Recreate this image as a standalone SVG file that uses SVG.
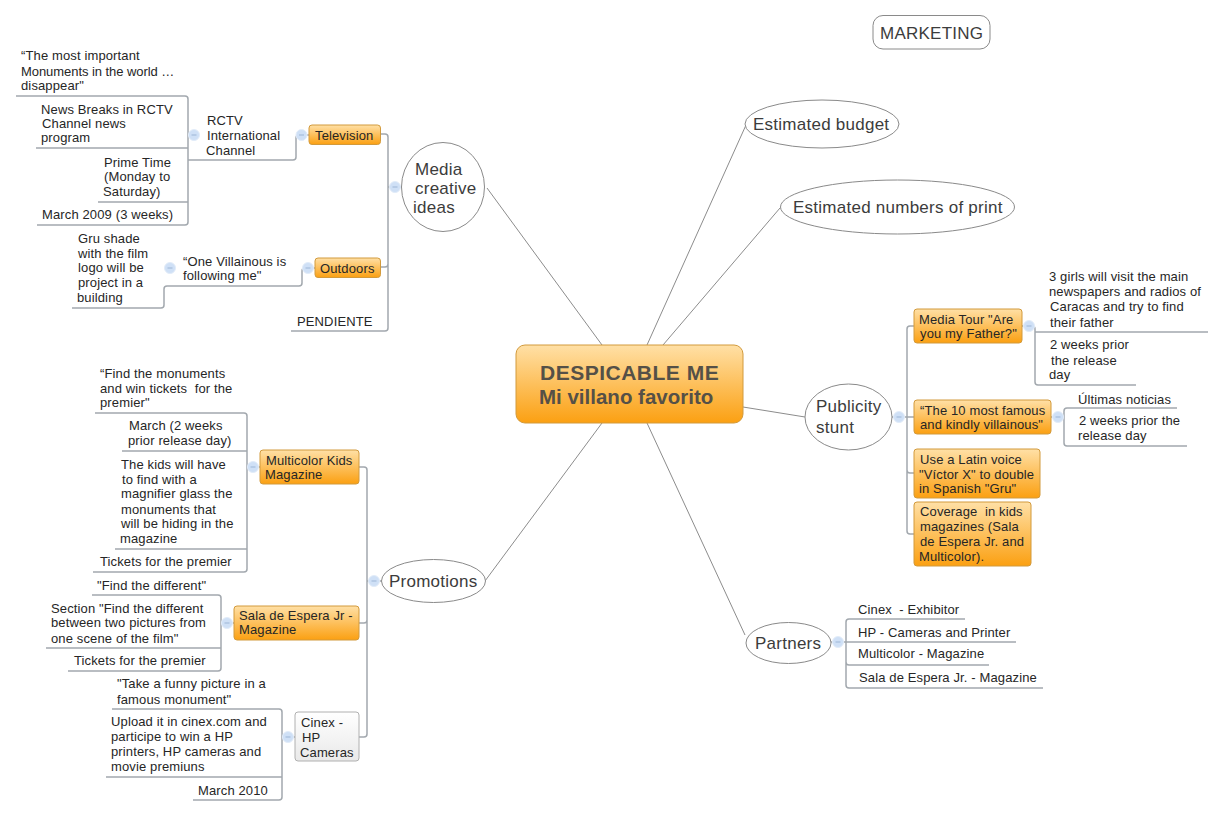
<svg xmlns="http://www.w3.org/2000/svg" width="1225" height="816" viewBox="0 0 1225 816">
<style>
text{font-family:"Liberation Sans",Arial,sans-serif;fill:#262626;white-space:pre}
.s{font-size:13px;letter-spacing:.13px}
.m{font-size:17px;fill:#3c3c3c;letter-spacing:.25px}
.c{font-size:21px;font-weight:bold;fill:#555047;letter-spacing:.5px}
.c2{font-size:20.500px;font-weight:bold;fill:#555047}
.o{fill:url(#og);stroke:#d29a3c;stroke-width:1}
.w{fill:url(#wg);stroke:#b0b0b0;stroke-width:1}
.e{fill:#fff;stroke:#8a8a8a;stroke-width:1}
.l{fill:none;stroke:#a2a8ae;stroke-width:1.5}
.r{fill:none;stroke:#8c8c8c;stroke-width:1}
</style>
<defs>
<linearGradient id="og" x1="0" y1="0" x2="0" y2="1"><stop offset="0" stop-color="#ffe0a6"/><stop offset="1" stop-color="#fba012"/></linearGradient>
<linearGradient id="wg" x1="0" y1="0" x2="0" y2="1"><stop offset="0" stop-color="#fff"/><stop offset="1" stop-color="#e9e9e9"/></linearGradient>
<g id="dot"><circle r="5.500" fill="#cfe0f6" stroke="#e2ecf9"/><path d="M-2.500 0H2.500" stroke="#9db6d6" stroke-width="1"/></g>
</defs>
<rect width="1225" height="816" fill="#fff"/>
<g id="connectors">
<path class="r" d="M602 345L487 188M647 345L746 125M663 345L780 208M743 407L805 417M647 423L745 635M602 423L485 581"/>
<path class="l" d="M381 134H385Q388 134 388 137V328Q388 331 385 331H291M381 267H385Q388 267 388 264M388 187H402"/>
<path class="l" d="M309 135H299Q296 135 296 138V157Q296 160 293 160H188M16 96H185Q188 96 188 99V222Q188 225 185 225H37M36 148H188M98 202H188"/>
<path class="l" d="M315 268H305Q302 268 302 271V283Q302 286 299 286H167Q164 286 164 289V305Q164 308 161 308H72"/>
<path class="l" d="M359 467H364Q367 467 367 470V734Q367 737 364 737H359M359 623H364Q367 623 367 620M367 581H382"/>
<path class="l" d="M260 467H247M95 413H244Q247 413 247 416V569Q247 572 244 572H93M122 451H247M115 549H247"/>
<path class="l" d="M234 623H221M92 595H218Q221 595 221 598V668Q221 671 218 671H68M46 648H221"/>
<path class="l" d="M295 737H282M112 709H279Q282 709 282 712V797Q282 800 279 800H193M106 777H282"/>
<path class="l" d="M914 326H910Q907 326 907 329V531Q907 534 910 534H914M892 417H914M907 470Q907 473 910 473H914"/>
<path class="l" d="M1022 326H1032Q1035 326 1035 329V382Q1035 385 1038 385H1136M1035 332H1208"/>
<path class="l" d="M1051 417H1064M1177 408H1067Q1064 408 1064 411V443Q1064 446 1067 446H1187"/>
<path class="l" d="M831 642H1016M965 619H849Q846 619 846 622V685Q846 688 849 688H1043M846 662Q846 665 849 665H989"/>
<use href="#dot" x="395" y="187"/><use href="#dot" x="301.500" y="135"/><use href="#dot" x="194" y="135"/><use href="#dot" x="308" y="268"/><use href="#dot" x="170" y="268"/>
<use href="#dot" x="374" y="581"/><use href="#dot" x="253" y="467"/><use href="#dot" x="227" y="623"/><use href="#dot" x="288" y="737"/>
<use href="#dot" x="899" y="417"/><use href="#dot" x="1029" y="326"/><use href="#dot" x="1058" y="417"/><use href="#dot" x="838" y="642"/>
</g>
<g id="center"><rect class="o" x="516" y="345" width="227" height="78" rx="9"/><text class="c" x="540" y="380">DESPICABLE ME</text><text class="c2" x="539" y="404">Mi villano favorito</text></g>
<g id="marketing"><rect x="873" y="15.500" width="117" height="33.500" rx="10" fill="#fff" stroke="#8a8a8a"/><text class="m" x="880" y="39">MARKETING</text></g>
<g id="budget"><ellipse class="e" cx="822" cy="124" rx="77" ry="24"/><text class="m" x="753" y="130">Estimated budget</text></g>
<g id="prints"><ellipse class="e" cx="897.500" cy="207" rx="117" ry="27"/><text class="m" x="793" y="213">Estimated numbers of print</text></g>
<g id="media"><ellipse class="e" cx="443" cy="187" rx="41.500" ry="44.500"/><text class="m" x="415" y="175">Media</text><text class="m" x="415" y="194">creative</text><text class="m" x="413" y="213">ideas</text></g>
<g id="promotions"><ellipse class="e" cx="433.500" cy="581" rx="52" ry="21.500"/><text class="m" x="389" y="587">Promotions</text></g>
<g id="publicity"><ellipse class="e" cx="848.500" cy="417" rx="43.500" ry="33"/><text class="m" x="816" y="412">Publicity</text><text class="m" x="816" y="433">stunt</text></g>
<g id="partners"><ellipse class="e" cx="788.500" cy="643" rx="42.500" ry="20.500"/><text class="m" x="755" y="649">Partners</text></g>
<g id="television"><rect class="o" x="309" y="125" width="71.500" height="19.500" rx="3"/><text class="s" x="315" y="140">Television</text></g>
<g id="outdoors"><rect class="o" x="315" y="258" width="65.500" height="19.500" rx="3"/><text class="s" x="320" y="273">Outdoors</text></g>
<g id="multicolor"><rect class="o" x="260" y="450" width="99" height="34" rx="3"/><text class="s" x="266" y="465">Multicolor Kids</text><text class="s" x="265" y="479">Magazine</text></g>
<g id="sala"><rect class="o" x="234" y="606" width="125" height="34" rx="3"/><text class="s" x="239" y="620">Sala de Espera Jr -</text><text class="s" x="239" y="634">Magazine</text></g>
<g id="cinex"><rect class="w" x="295" y="712" width="64" height="49" rx="3"/><text class="s" x="301" y="727">Cinex -</text><text class="s" x="302" y="742">HP</text><text class="s" x="300" y="757">Cameras</text></g>
<g id="mediatour"><rect class="o" x="914" y="309" width="108" height="34" rx="3"/><text class="s" x="919" y="324">Media Tour "Are</text><text class="s" x="920" y="338">you my Father?"</text></g>
<g id="ten"><rect class="o" x="914" y="400" width="137" height="34" rx="3"/><text class="s" x="920" y="415">“The 10 most famous</text><text class="s" x="920" y="429">and kindly villainous"</text></g>
<g id="latin"><rect class="o" x="914" y="449" width="126" height="49" rx="3"/><text class="s" x="920" y="464">Use a Latin voice</text><text class="s" x="919" y="479">"Víctor X" to double</text><text class="s" x="919" y="493">in Spanish "Gru"</text></g>
<g id="coverage"><rect class="o" x="914" y="502" width="117" height="64" rx="3"/><text class="s" x="920" y="516">Coverage  in kids</text><text class="s" x="920" y="531">magazines (Sala</text><text class="s" x="920" y="546">de Espera Jr. and</text><text class="s" x="919" y="561">Multicolor).</text></g>
<g id="t-monuments"><text class="s" x="21" y="60">“The most important</text><text class="s" x="21" y="76" style="letter-spacing:-.06px">Monuments in the world …</text><text class="s" x="21" y="90">disappear"</text></g>
<g id="t-news"><text class="s" x="41" y="114">News Breaks in RCTV</text><text class="s" x="42" y="128">Channel news</text><text class="s" x="41" y="142">program</text></g>
<g id="t-prime"><text class="s" x="104" y="167">Prime Time</text><text class="s" x="104" y="181">(Monday to</text><text class="s" x="103" y="196">Saturday)</text></g>
<g id="t-march09"><text class="s" x="42" y="219">March 2009 (3 weeks)</text></g>
<g id="t-rctv"><text class="s" x="207" y="125">RCTV</text><text class="s" x="207" y="140">International</text><text class="s" x="206" y="155">Channel</text></g>
<g id="t-gru"><text class="s" x="78" y="243">Gru shade</text><text class="s" x="78" y="258">with the film</text><text class="s" x="78" y="272">logo will be</text><text class="s" x="78" y="287">project in a</text><text class="s" x="77" y="302">building</text></g>
<g id="t-one"><text class="s" x="183" y="266">“One Villainous is</text><text class="s" x="183" y="280">following me"</text></g>
<g id="t-pendiente"><text class="s" x="297" y="326">PENDIENTE</text></g>
<g id="t-find"><text class="s" x="100" y="378">“Find the monuments</text><text class="s" x="100" y="393">and win tickets  for the</text><text class="s" x="100" y="407">premier"</text></g>
<g id="t-march2w"><text class="s" x="129" y="430">March (2 weeks</text><text class="s" x="128" y="445">prior release day)</text></g>
<g id="t-kids"><text class="s" x="121" y="469">The kids will have</text><text class="s" x="122" y="484">to find with a</text><text class="s" x="121" y="498">magnifier glass the</text><text class="s" x="121" y="514">monuments that</text><text class="s" x="121" y="528">will be hiding in the</text><text class="s" x="120" y="543">magazine</text></g>
<g id="t-tickets1"><text class="s" x="100" y="566">Tickets for the premier</text></g>
<g id="t-diff"><text class="s" x="97" y="590">"Find the different"</text></g>
<g id="t-section"><text class="s" x="51" y="613">Section "Find the different</text><text class="s" x="51" y="627">between two pictures from</text><text class="s" x="51" y="643">one scene of the film"</text></g>
<g id="t-tickets2"><text class="s" x="74" y="665">Tickets for the premier</text></g>
<g id="t-take"><text class="s" x="117" y="688">"Take a funny picture in a</text><text class="s" x="117" y="704">famous monument"</text></g>
<g id="t-upload"><text class="s" x="111" y="726">Upload it in cinex.com and</text><text class="s" x="111" y="741">participe to win a HP</text><text class="s" x="111" y="756">printers, HP cameras and</text><text class="s" x="111" y="771">movie premiuns</text></g>
<g id="t-march10"><text class="s" x="198" y="795">March 2010</text></g>
<g id="t-girls"><text class="s" x="1049" y="281">3 girls will visit the main</text><text class="s" x="1049" y="296">newspapers and radios of</text><text class="s" x="1050" y="311">Caracas and try to find</text><text class="s" x="1050" y="327">their father</text></g>
<g id="t-prior1"><text class="s" x="1050" y="349">2 weeks prior</text><text class="s" x="1051" y="365">the release</text><text class="s" x="1049" y="379">day</text></g>
<g id="t-ultimas"><text class="s" x="1078" y="404">Últimas noticias</text></g>
<g id="t-prior2"><text class="s" x="1079" y="425">2 weeks prior the</text><text class="s" x="1078" y="440">release day</text></g>
<g id="t-p1"><text class="s" x="858" y="614">Cinex  - Exhibitor</text></g>
<g id="t-p2"><text class="s" x="858" y="637">HP - Cameras and Printer</text></g>
<g id="t-p3"><text class="s" x="858" y="658">Multicolor - Magazine</text></g>
<g id="t-p4"><text class="s" x="859" y="682">Sala de Espera Jr. - Magazine</text></g>
</svg>
